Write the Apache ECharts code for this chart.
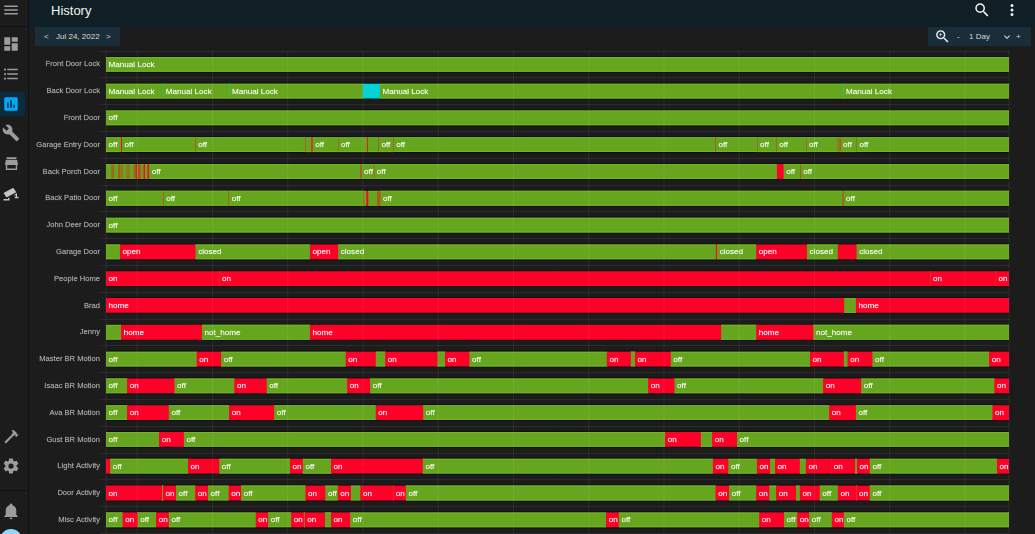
<!DOCTYPE html>
<html lang="en">
<head>
<meta charset="UTF-8">
<title>History</title>
<script src="https://cdn.jsdelivr.net/npm/echarts@6/dist/echarts.min.js"></script>
<style>
html, body { margin: 0; padding: 0; width: 1035px; height: 534px; overflow: hidden; background: #1c1c1c; font-family: "Liberation Sans", sans-serif; }
#main { position: absolute; left: 0; top: 0; width: 1035px; height: 534px; }
#header { position: absolute; left: 29px; top: 0; right: 0; height: 27px; background: #101e25; }
#title { position: absolute; left: 51px; top: 1.5px; color: #f2f2f2; font-size: 13px; line-height: 18px; }
#side { position: absolute; left: 0; top: 0; width: 28px; height: 534px; border-right: 1px solid #111; background: #1c1c1c; overflow: hidden; }
.rule { position: absolute; left: 0; width: 28px; height: 1px; background: #111; }
.active { position: absolute; left: 0; top: 92px; width: 25px; height: 24px; background: #0c2b3f; border-radius: 0 3px 3px 0; }
.pill { position: absolute; top: 27px; height: 19px; background: #1a2e3a; color: #d4d4d4; font-size: 8px; line-height: 19px; }
.pill span { position: absolute; white-space: pre; }
svg.ic { position: absolute; fill: #9c9c9c; }
#avatar { position: absolute; left: 0; top: 529px; width: 22px; height: 22px; border-radius: 50%; background: #8fd8f7; }
</style>
</head>
<body>
<div id="header"></div>
<div id="title">History</div>
<div id="side">
    <div class="rule" style="top:26px"></div>
    <div class="rule" style="top:490px"></div>
    <div class="active"></div>
    <svg class="ic" style="left:2px;top:1px;width:18px;height:18px" viewBox="0 0 24 24"><path d="M3,6H21V8H3V6M3,11H21V13H3V11M3,16H21V18H3V16Z"/></svg>
    <svg class="ic" style="left:2px;top:35px;width:18px;height:18px" viewBox="0 0 24 24"><path d="M13,3V9H21V3M13,21H21V11H13M3,21H11V15H3M3,13H11V3H3V13Z"/></svg>
    <svg class="ic" style="left:2px;top:65px;width:18px;height:18px" viewBox="0 0 24 24"><path d="M7,5H21V7H7V5M7,13V11H21V13H7M4,4.5A1.5,1.5 0 0,1 5.5,6A1.5,1.5 0 0,1 4,7.5A1.5,1.5 0 0,1 2.5,6A1.5,1.5 0 0,1 4,4.5M4,10.5A1.5,1.5 0 0,1 5.5,12A1.5,1.5 0 0,1 4,13.5A1.5,1.5 0 0,1 2.5,12A1.5,1.5 0 0,1 4,10.5M7,19V17H21V19H7M4,16.5A1.5,1.5 0 0,1 5.5,18A1.5,1.5 0 0,1 4,19.5A1.5,1.5 0 0,1 2.5,18A1.5,1.5 0 0,1 4,16.5Z"/></svg>
    <svg class="ic" style="left:2px;top:95px;width:18px;height:18px;fill:#03a9f4" viewBox="0 0 24 24"><path fill-rule="evenodd" d="M5,3H19C20.1,3 21,3.9 21,5V19C21,20.1 20.1,21 19,21H5C3.9,21 3,20.1 3,19V5C3,3.9 3.9,3 5,3M7,10V17H9V10H7M11,7V17H13V7H11M15,13V17H17V13H15Z"/></svg>
    <svg class="ic" style="left:2px;top:124px;width:18px;height:18px" viewBox="0 0 24 24"><path d="M22.7,19L13.6,9.9C14.5,7.6 14,4.9 12.1,3C10.1,1 7.1,0.6 4.7,1.7L9,6L6,9L1.6,4.7C0.4,7.1 0.9,10.1 2.9,12.1C4.8,14 7.5,14.5 9.8,13.6L18.9,22.7C19.3,23.1 19.9,23.1 20.3,22.7L22.6,20.4C23.1,20 23.1,19.3 22.7,19Z"/></svg>
    <svg class="ic" style="left:3px;top:155px;width:17px;height:17px" viewBox="0 0 24 24"><path d="M5,3H19V6H5V3M4,7H20L21,12V14H20V21H4V14H3V12L4,7M6,14V19H18V14H6Z"/></svg>
    <svg class="ic" style="left:2px;top:184px;width:18px;height:18px;fill:#c4c4c4" viewBox="0 0 24 24"><path d="M2,12L15,5L19,11L6,18L2,12M17,14L20,12V17H22V19H17V17H18.5V14.5L16,16L17,14M8,19L10,18V22H2V20H8V19Z"/></svg>
    <svg class="ic" style="left:3px;top:428px;width:17px;height:17px" viewBox="0 0 24 24"><path d="M2 19.63L13.43 8.2L12.72 7.5L14.14 6.07L12 3.89C13.2 2.7 15.09 2.7 16.27 3.89L19.87 7.5L18.45 8.91H21.29L22 9.62L18.45 13.21L17.74 12.5V9.62L16.27 11.04L15.56 10.33L4.13 21.76L2 19.63Z"/></svg>
    <svg class="ic" style="left:2px;top:457px;width:18px;height:18px" viewBox="0 0 24 24"><path d="M12,15.5A3.5,3.5 0 0,1 8.5,12A3.5,3.5 0 0,1 12,8.5A3.5,3.5 0 0,1 15.5,12A3.5,3.5 0 0,1 12,15.5M19.43,12.97C19.47,12.65 19.5,12.33 19.5,12C19.5,11.67 19.47,11.34 19.43,11L21.54,9.37C21.73,9.22 21.78,8.95 21.66,8.73L19.66,5.27C19.54,5.05 19.27,4.96 19.05,5.05L16.56,6.05C16.04,5.66 15.5,5.32 14.87,5.07L14.5,2.42C14.46,2.18 14.25,2 14,2H10C9.75,2 9.54,2.18 9.5,2.42L9.13,5.07C8.5,5.32 7.96,5.66 7.44,6.05L4.95,5.05C4.73,4.96 4.46,5.05 4.34,5.27L2.34,8.73C2.21,8.95 2.27,9.22 2.46,9.37L4.57,11C4.53,11.34 4.5,11.67 4.5,12C4.5,12.33 4.53,12.65 4.57,12.97L2.46,14.63C2.27,14.78 2.21,15.05 2.34,15.27L4.34,18.73C4.46,18.95 4.73,19.03 4.95,18.95L7.44,17.94C7.96,18.34 8.5,18.68 9.13,18.93L9.5,21.58C9.54,21.82 9.75,22 10,22H14C14.25,22 14.46,21.82 14.5,21.58L14.87,18.93C15.5,18.67 16.04,18.34 16.56,17.94L19.05,18.95C19.27,19.03 19.54,18.95 19.66,18.73L21.66,15.27C21.78,15.05 21.73,14.78 21.54,14.63L19.43,12.97Z"/></svg>
    <svg class="ic" style="left:2px;top:502px;width:18px;height:18px" viewBox="0 0 24 24"><path d="M21,19V20H3V19L5,17V11C5,7.9 7.03,5.17 10,4.29C10,4.19 10,4.1 10,4A2,2 0 0,1 12,2A2,2 0 0,1 14,4C14,4.1 14,4.19 14,4.29C16.97,5.17 19,7.9 19,11V17L21,19M14,21A2,2 0 0,1 12,23A2,2 0 0,1 10,21"/></svg>
    <div id="avatar"></div>
</div>
<svg class="ic" style="left:973px;top:1px;width:18px;height:18px;fill:#f0f0f0" viewBox="0 0 24 24"><path d="M9.5,3A6.5,6.5 0 0,1 16,9.5C16,11.11 15.41,12.59 14.44,13.73L14.71,14H15.5L20.5,19L19,20.5L14,15.5V14.71L13.73,14.44C12.59,15.41 11.11,16 9.5,16A6.5,6.5 0 0,1 3,9.5A6.5,6.5 0 0,1 9.5,3M9.5,5C7,5 5,7 5,9.5C5,12 7,14 9.5,14C12,14 14,12 14,9.5C14,7 12,5 9.5,5Z"/></svg>
<svg class="ic" style="left:1003px;top:1px;width:18px;height:18px;fill:#f0f0f0" viewBox="0 0 24 24"><path d="M12,16A2,2 0 0,1 14,18A2,2 0 0,1 12,20A2,2 0 0,1 10,18A2,2 0 0,1 12,16M12,10A2,2 0 0,1 14,12A2,2 0 0,1 12,14A2,2 0 0,1 10,12A2,2 0 0,1 12,10M12,4A2,2 0 0,1 14,6A2,2 0 0,1 12,8A2,2 0 0,1 10,6A2,2 0 0,1 12,4Z"/></svg>
<div class="pill" style="left:35px;width:85px">
    <span style="left:9px">&lt;</span>
    <span style="left:21px;color:#e0d8c8">Jul 24, 2022</span>
    <span style="left:71px">&gt;</span>
</div>
<div class="pill" style="left:928px;width:103px">
    <svg class="ic" style="left:6px;top:1px;width:17px;height:17px;fill:#f0f0f0" viewBox="0 0 24 24"><path d="M9.5,3A6.5,6.5 0 0,1 16,9.5C16,11.11 15.41,12.59 14.44,13.73L14.71,14H15.5L20.5,19L19,20.5L14,15.5V14.71L13.73,14.44C12.59,15.41 11.11,16 9.5,16A6.5,6.5 0 0,1 3,9.5A6.5,6.5 0 0,1 9.5,3M9.5,5C7,5 5,7 5,9.5C5,12 7,14 9.5,14C12,14 14,12 14,9.5C14,7 12,5 9.5,5M9,7H10V9H12V10H10V12H9V10H7V9H9V7Z"/></svg>
    <span style="left:29px">-</span>
    <span style="left:41px">1 Day</span>
    <svg class="ic" style="left:73px;top:4px;width:12px;height:12px;fill:#d4d4d4" viewBox="0 0 24 24"><path d="M7.41,8.58L12,13.17L16.59,8.58L18,10L12,16L6,10L7.41,8.58Z"/></svg>
    <span style="left:88px">+</span>
</div>
<div id="main"></div>

<script>
// rows, top to bottom
var categories = ['Front Door Lock', 'Back Door Lock', 'Front Door', 'Garage Entry Door', 'Back Porch Door',
    'Back Patio Door', 'John Deer Door', 'Garage Door', 'People Home', 'Brad', 'Jenny', 'Master BR Motion',
    'Isaac BR Motion', 'Ava BR Motion', 'Gust BR Motion', 'Light Activity', 'Door Activity', 'Misc Activity'];

// hours since start of the 24h window where a vertical grid line sits
var gridHours = [0, 0.83, 2.83, 4.83, 6.83, 8.83, 10.83, 12.83, 14.83, 16.83, 18.83, 20.83, 22.83, 24];

// state colours
var stateColors = { 'Manual Lock': '#66a61e', unlocked: '#00d2d5', off: '#66a61e', on: '#ff0029',
    closed: '#66a61e', open: '#ff0029', home: '#ff0029', not_home: '#66a61e' };

// each row: [state, hour the state ends]
var frontDoorLock = [['Manual Lock', 24]];
var backDoorLock = [['Manual Lock', 1.51], ['unlocked', 1.52], ['Manual Lock', 3.27], ['unlocked', 3.28], ['Manual Lock', 6.83],
    ['unlocked', 7.28], ['Manual Lock', 19.59], ['unlocked', 19.60], ['Manual Lock', 24]];
var frontDoor = [['off', 24]];
var garageEntryDoor = [['off', 0.40], ['on', 0.425], ['off', 2.37], ['on', 2.38], ['off', 5.30], ['on', 5.305], ['off', 5.46], ['on', 5.49],
    ['off', 6.17], ['on', 6.175], ['off', 6.94], ['on', 6.96], ['off', 7.24], ['on', 7.25], ['off', 7.64], ['on', 7.645], ['off', 16.20], ['on', 16.21],
    ['off', 17.31], ['on', 17.315], ['off', 17.82], ['on', 17.825], ['off', 18.61], ['on', 18.615], ['off', 19.45], ['on', 19.46], ['off', 19.48],
    ['on', 19.49], ['off', 19.51], ['on', 19.52], ['off', 19.95], ['on', 19.955], ['off', 24]];
var backPorchDoor = [['off', 0.15], ['on', 0.155], ['off', 0.17], ['on', 0.175], ['off', 0.19], ['on', 0.195], ['off', 0.21], ['on', 0.215],
    ['off', 0.33], ['on', 0.34], ['off', 0.36], ['on', 0.375], ['off', 0.395], ['on', 0.405], ['off', 0.425], ['on', 0.435],
    ['off', 0.53], ['on', 0.535], ['off', 0.555], ['on', 0.56], ['off', 0.58], ['on', 0.585], ['off', 0.605], ['on', 0.61], ['off', 0.63], ['on', 0.635],
    ['off', 0.74], ['on', 0.755], ['off', 0.77], ['on', 0.785], ['off', 0.80], ['on', 0.825],
    ['off', 0.86], ['on', 0.875], ['off', 0.89], ['on', 0.915], ['off', 0.98], ['on', 0.995], ['off', 1.01], ['on', 1.035],
    ['off', 1.09], ['on', 1.105], ['off', 1.12], ['on', 1.145],
    ['off', 6.75], ['on', 6.76], ['off', 6.78], ['on', 6.79], ['off', 7.12], ['on', 7.13], ['off', 17.83], ['on', 18.01], ['off', 18.45], ['on', 18.46], ['off', 24]];
var backPatioDoor = [['off', 1.52], ['on', 1.53], ['off', 3.26], ['on', 3.27], ['off', 6.83], ['on', 6.84], ['off', 6.92], ['on', 6.97],
    ['off', 7.21], ['on', 7.22], ['off', 7.24], ['on', 7.25], ['off', 7.27], ['on', 7.29], ['off', 19.58], ['on', 19.60], ['off', 24]];
var johnDeerDoor = [['off', 24]];
var garageDoor = [['closed', 0.37], ['open', 2.38], ['closed', 5.42], ['open', 6.17], ['closed', 16.21], ['open', 16.24], ['closed', 17.28],
    ['open', 18.63], ['closed', 19.45], ['open', 19.95], ['closed', 24]];
var peopleHome = [['on', 3.01], ['off', 3.012], ['on', 21.91], ['off', 21.913], ['on', 23.65], ['off', 23.655], ['on', 24]];
var brad = [['home', 19.62], ['not_home', 19.93], ['home', 24]];
var jenny = [['not_home', 0.40], ['home', 2.55], ['not_home', 5.42], ['home', 16.35], ['not_home', 17.28], ['home', 18.80], ['not_home', 24]];
var masterBrMotion = [['off', 2.41], ['on', 3.06], ['off', 6.37], ['on', 7.17], ['off', 7.42], ['on', 8.81], ['off', 9.01], ['on', 9.66], ['off', 13.31],
    ['on', 13.95], ['off', 14.06], ['on', 15.01], ['off', 18.71], ['on', 19.61], ['off', 19.71], ['on', 20.37], ['off', 23.47], ['on', 24]];
var isaacBrMotion = [['off', 0.56], ['on', 1.82], ['off', 3.41], ['on', 4.27], ['off', 6.41], ['on', 7.02], ['off', 14.41], ['on', 15.11], ['off', 19.06],
    ['on', 20.07], ['off', 23.61], ['on', 24]];
var avaBrMotion = [['off', 0.56], ['on', 1.67], ['off', 3.27], ['on', 4.47], ['off', 7.17], ['on', 8.43], ['off', 19.22], ['on', 19.93], ['off', 23.56], ['on', 24]];
var gustBrMotion = [['off', 1.41], ['on', 2.07], ['off', 14.86], ['on', 15.81], ['off', 16.11], ['on', 16.77], ['off', 24]];
var lightActivity = [['on', 0.11], ['off', 2.18], ['on', 3.01], ['off', 4.89], ['on', 5.23], ['off', 5.98], ['on', 8.42], ['off', 16.13], ['on', 16.54],
    ['off', 17.30], ['on', 17.65], ['off', 17.78], ['on', 18.44], ['off', 18.60], ['on', 19.27], ['off', 19.272], ['on', 19.91], ['off', 19.96], ['on', 20.30],
    ['off', 23.68], ['on', 24]];
var doorActivity = [['on', 1.49], ['off', 1.515], ['on', 1.86], ['off', 2.37], ['on', 2.71], ['off', 3.26], ['on', 3.59], ['off', 5.30], ['on', 5.83],
    ['off', 6.16], ['on', 6.51], ['off', 6.76], ['on', 7.63], ['off', 7.635], ['on', 7.97], ['off', 16.20], ['on', 16.56], ['off', 17.28], ['on', 17.63],
    ['off', 17.81], ['on', 18.34], ['off', 18.44], ['on', 18.97], ['off', 19.45], ['on', 19.94], ['off', 19.945], ['on', 20.30], ['off', 24]];
var miscActivity = [['off', 0.44], ['on', 0.84], ['off', 1.33], ['on', 1.67], ['off', 3.98], ['on', 4.31], ['off', 4.92], ['on', 5.26], ['off', 5.28],
    ['on', 5.82], ['off', 5.98], ['on', 6.49], ['off', 13.29], ['on', 13.63], ['off', 17.36], ['on', 18.02], ['off', 18.37], ['on', 18.69], ['off', 19.29],
    ['on', 19.61], ['off', 24]];

var rows = [frontDoorLock, backDoorLock, frontDoor, garageEntryDoor, backPorchDoor, backPatioDoor, johnDeerDoor, garageDoor, peopleHome,
    brad, jenny, masterBrMotion, isaacBrMotion, avaBrMotion, gustBrMotion, lightActivity, doorActivity, miscActivity];

var segments = [];
rows.forEach(function (row, r) {
    var start = 0;
    row.forEach(function (s) {
        segments.push([r, start, s[1], s[0]]);
        start = s[1];
    });
});

var barFont = '8.1px "Liberation Sans"';
var barHeight = 14.8;
var ctx = document.createElement('canvas').getContext('2d');
ctx.font = barFont;

function renderSegment(params, api) {
    var y = api.coord([0, api.value(0)])[1];
    var x0 = api.coord([api.value(1), 0])[0];
    var x1 = api.coord([api.value(2), 0])[0];
    var state = api.value(3);
    var top = y - barHeight / 2;
    // run a little under the next segment so no dark seam shows between them
    var drawnWidth = x1 - x0 + (api.value(2) < 24 ? 0.8 : 0);
    var children = [{
        type: 'rect',
        shape: { x: x0, y: top, width: drawnWidth, height: barHeight },
        style: { fill: stateColors[state] }
    }];
    // the green bars carry a lighter rim
    if (stateColors[state] === '#66a61e') {
        children.push({ type: 'rect', shape: { x: x0, y: top, width: x1 - x0, height: 1 }, style: { fill: '#74b429' } });
        children.push({ type: 'rect', shape: { x: x0, y: top + barHeight - 1, width: x1 - x0, height: 1 }, style: { fill: '#74b429' } });
    }
    // state name only when it fits inside the bar
    if (x1 - x0 > ctx.measureText(state).width + 3) {
        children.push({
            type: 'text',
            z2: 5,
            style: { x: x0 + 2.6, y: y + 0.3, text: state, fill: '#ffffff', font: barFont, verticalAlign: 'middle',
                stroke: 'rgba(255,255,255,0.35)', lineWidth: 0.3 }
        });
    }
    return { type: 'group', children: children };
}

// dark halo behind each row
function renderHalo(params, api) {
    var y = api.coord([0, api.value(0)])[1];
    var x0 = api.coord([0, 0])[0];
    var x1 = api.coord([24, 0])[0];
    return {
        type: 'rect',
        shape: { x: x0, y: y - barHeight / 2 - 1.2, width: x1 - x0, height: barHeight + 2.4 },
        style: { fill: '#101010' }
    };
}

function renderGridLine(params, api) {
    var x = api.coord([api.value(0), 0])[0];
    return {
        type: 'line',
        shape: { x1: x, y1: params.coordSys.y, x2: x, y2: params.coordSys.y + params.coordSys.height },
        style: { stroke: 'rgba(255,255,255,0.07)', lineWidth: 1 }
    };
}

var myChart = echarts.init(document.getElementById('main'));
myChart.setOption({
    backgroundColor: 'transparent',
    animation: false,
    grid: { left: 106, right: 26, top: 50.9, bottom: 0.8 },
    xAxis: {
        type: 'value',
        min: 0,
        max: 24,
        axisLine: { show: false },
        axisTick: { show: false },
        axisLabel: { show: false },
        splitLine: { show: false }
    },
    yAxis: {
        type: 'category',
        inverse: true,
        data: categories,
        axisLine: { show: false },
        axisTick: { show: true, length: 6, lineStyle: { color: '#2b2b2b' } },
        axisLabel: { color: '#b0b0b0', fontSize: 7.6, fontFamily: 'Liberation Sans', margin: 6, interval: 0,
            textBorderColor: 'rgba(176,176,176,0.4)', textBorderWidth: 0.3 },
        splitLine: { show: true, interval: 0, lineStyle: { color: '#2b2b2b', width: 1 } }
    },
    series: [
        {
            type: 'custom',
            name: 'row halo',
            renderItem: renderHalo,
            encode: { y: 0 },
            data: categories.map(function (c, i) { return [i]; }),
            silent: true,
            z: 1
        },
        {
            type: 'custom',
            name: 'states',
            renderItem: renderSegment,
            encode: { x: [1, 2], y: 0 },
            data: segments,
            clip: false,
            silent: true,
            z: 2
        },
        {
            type: 'custom',
            name: 'time grid',
            renderItem: renderGridLine,
            encode: { x: 0 },
            data: gridHours.map(function (h) { return [h]; }),
            silent: true,
            z: 3
        }
    ]
});
</script>
</body>
</html>
